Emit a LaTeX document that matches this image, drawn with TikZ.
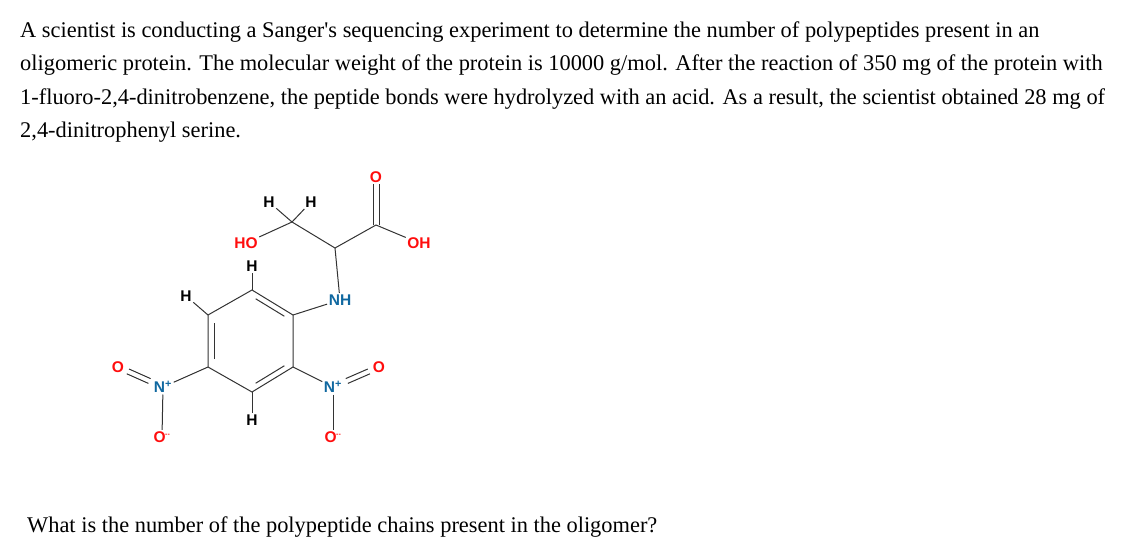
\documentclass[tikz,border=0pt]{standalone}
\usepackage{fontspec}
\setmainfont{Liberation Serif}
\newfontfamily\chemf{Liberation Sans}
\usetikzlibrary{calc}
\definecolor{ored}{RGB}{255,13,13}
\definecolor{nblue}{RGB}{16,104,160}
\begin{document}
\begin{tikzpicture}[x=1pt,y=-1pt,
  para/.style={anchor=base west,inner sep=0pt,font=\fontsize{22.4}{26}\selectfont},
  atom/.style={inner sep=1.5pt,font=\chemf\bfseries\fontsize{15.5}{17}\selectfont},
  oat/.style={atom,text=ored},
  nat/.style={atom,text=nblue},
  hat/.style={atom,text=black},
  bond/.style={draw=black!80,line width=1pt}]
\useasboundingbox (0,0) rectangle (1134,552);
\node[para] (l1) at (20,37) {A scientist is conducting a Sanger\textquotesingle s sequencing experiment to determine the number of polypeptides present in an};
\node[para] (l2) at (20,70) {oligomeric protein. The molecular weight of the protein is 10000 g/mol. After the reaction of 350 mg of the protein with};
\node[para] (l3) at (20,104) {1-fluoro-2,4-dinitrobenzene, the peptide bonds were hydrolyzed with an acid. As a result, the scientist obtained 28 mg of};
\node[para] (l4) at (20,137) {2,4-dinitrophenyl serine.};
\node[para] (q) at (27,532) {What is the number of the polypeptide chains present in the oligomer?};
% atoms
\coordinate (cb) at (292,222);
\coordinate (ca) at (335,248);
\coordinate (cc) at (376,225);
\coordinate (r1) at (293,315);
\coordinate (r2) at (293,367);
\coordinate (r3) at (252,392);
\coordinate (r4) at (208,367);
\coordinate (r5) at (208,315);
\coordinate (r6) at (252,290);
\node[oat] (o1) at (376,177) {O};
\node[oat] (oh) at (419,243) {OH};
\node[oat] (ho) at (246,243) {HO};
\node[hat] (h1) at (269,202) {H};
\node[hat] (h2) at (311,202) {H};
\node[nat] (nh) at (340,300) {NH};
\node[hat] (h6) at (252,266) {H};
\node[hat] (h5) at (186,296) {H};
\node[hat] (h3) at (252,420) {H};
\node[nat] (n1) at (163,387) {N\textsuperscript{+}};
\node[oat] (o2) at (118,367) {O};
\node[oat] (o3) at (162,437) {O\textsuperscript{\kern-0.5pt\raisebox{1pt}{\scriptsize--}}};
\node[nat] (n2) at (333,387) {N\textsuperscript{+}};
\node[oat] (o4) at (379,367) {O};
\node[oat] (o5) at (333,437) {O\textsuperscript{\kern-0.5pt\raisebox{1pt}{\scriptsize--}}};
% bonds
\draw[bond] (h1) -- (cb) -- (h2);
\draw[bond] (ho) -- (cb) -- (ca) -- (cc) -- (oh);
\draw[bond] ([xshift=-3pt]cc) -- ([xshift=-3pt]o1.south);
\draw[bond] ([xshift=3pt]cc) -- ([xshift=3pt]o1.south);
\draw[bond] (ca) -- (nh) -- (r1);
\draw[bond] (r1) -- (r2) -- (r3) -- (r4) -- (r5) -- (r6) -- (r1);
\draw[bond] ($(r6)!0.15!(r1)+(-2.5,5)$) -- ($(r6)!0.85!(r1)+(-2.5,5)$);
\draw[bond] ($(r2)!0.15!(r3)+(-2.5,-5)$) -- ($(r2)!0.85!(r3)+(-2.5,-5)$);
\draw[bond] ($(r4)!0.15!(r5)+(6,0)$) -- ($(r4)!0.85!(r5)+(6,0)$);
\draw[bond] (r6) -- (h6);
\draw[bond] (r5) -- (h5);
\draw[bond] (r3) -- (h3);
\draw[bond] (r4) -- (n1);
\draw[bond] (r2) -- (n2);
\draw[bond] (n1) -- (o3);
\draw[bond] (n2) -- (o5);
\draw[bond] ($(n1.center)!0.3!(o2.center)+(1.1,-2.4)$) -- ($(n1.center)!0.78!(o2.center)+(1.1,-2.4)$);
\draw[bond] ($(n1.center)!0.3!(o2.center)+(-1.1,2.4)$) -- ($(n1.center)!0.78!(o2.center)+(-1.1,2.4)$);
\draw[bond] ($(n2.center)!0.3!(o4.center)+(1.1,2.4)$) -- ($(n2.center)!0.78!(o4.center)+(1.1,2.4)$);
\draw[bond] ($(n2.center)!0.3!(o4.center)+(-1.1,-2.4)$) -- ($(n2.center)!0.78!(o4.center)+(-1.1,-2.4)$);
\end{tikzpicture}
\end{document}
